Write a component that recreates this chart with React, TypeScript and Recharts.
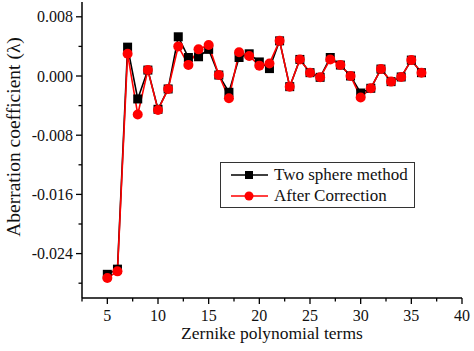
import { Line, LineChart, XAxis, YAxis } from "recharts"

const terms = [5, 6, 7, 8, 9, 10, 11, 12, 13, 14, 15, 16, 17, 18, 19, 20, 21, 22, 23, 24, 25, 26, 27, 28, 29, 30, 31, 32, 33, 34, 35, 36]

const twoSphere = [
  -0.0268, -0.0261, 0.0039, -0.0031, 0.0008, -0.0045, -0.00175, 0.0053, 0.0025, 0.0026, 0.0036, 0.00013,
  -0.0022, 0.0025, 0.003, 0.0019, 0.001, 0.00475, -0.00144, 0.00224, 0.00045, -0.00018, 0.0025, 0.00148,
  0.0, -0.0023, -0.00166, 0.00094, -0.00076, -0.00013, 0.00215, 0.00045,
]

const afterCorrection = [
  -0.0273, -0.0264, 0.003, -0.0052, 0.0008, -0.0046, -0.00175, 0.004, 0.0015, 0.0036, 0.0042, 0.00013,
  -0.003, 0.0032, 0.0027, 0.0014, 0.0017, 0.00475, -0.00144, 0.00224, 0.00045, -0.00018, 0.00224, 0.00148,
  0.0, -0.0029, -0.00166, 0.00094, -0.00076, -0.00013, 0.00215, 0.00045,
]

const xTicks = [2.5, 5, 7.5, 10, 12.5, 15, 17.5, 20, 22.5, 25, 27.5, 30, 32.5, 35, 37.5, 40]
const yTicks = [-0.028, -0.024, -0.02, -0.016, -0.012, -0.008, -0.004, 0, 0.004, 0.008]
const yMajor = [-0.024, -0.016, -0.008, 0, 0.008]

const FONT = "'Liberation Serif', 'Times New Roman', serif"

const data = terms.map((t, i) => ({ term: t, two: twoSphere[i], after: afterCorrection[i] }))

function XTick({ x, y, payload }: any) {
  const v = payload.value
  const major = v % 5 === 0
  return (
    <g>
      <line x1={x} x2={x} y1={y} y2={y + (major ? 6 : 3.5)} stroke="#000" strokeWidth={1.3} />
      {major && (
        <text x={x} y={y + 23} textAnchor="middle" fontFamily={FONT} fontSize={16} fill="#111">
          {v}
        </text>
      )}
    </g>
  )
}

function YTick({ x, y, payload }: any) {
  const v = payload.value
  const major = yMajor.some((m) => Math.abs(m - v) < 1e-9)
  return (
    <g>
      <line x1={x} x2={x - (major ? 6 : 3.5)} y1={y} y2={y} stroke="#000" strokeWidth={1.3} />
      {major && (
        <text x={x - 9} y={y + 5.5} textAnchor="end" fontFamily={FONT} fontSize={16} fill="#111">
          {v.toFixed(3)}
        </text>
      )}
    </g>
  )
}

function SquareDot({ cx, cy }: any) {
  return <rect x={cx - 4.5} y={cy - 4.5} width={9} height={9} fill="#000" />
}

function CircleDot({ cx, cy }: any) {
  return <circle cx={cx} cy={cy} r={5} fill="#ff0000" />
}

function ChartLegend() {
  const row = (color: string, square: boolean, label: string) => (
    <div style={{ display: "flex", alignItems: "center", height: 21, whiteSpace: "nowrap" }}>
      <svg width={40} height={12} style={{ marginRight: 3 }}>
        <line x1={0} x2={37} y1={6} y2={6} stroke={color} strokeWidth={1.5} />
        {square ? (
          <rect x={14} y={2} width={8} height={8} fill={color} />
        ) : (
          <circle cx={18} cy={6} r={4.5} fill={color} />
        )}
      </svg>
      <span>{label}</span>
    </div>
  )
  return (
    <div
      style={{
        position: "absolute",
        left: 220,
        top: 162,
        border: "1px solid #333",
        padding: "1px 6px 1px 10px",
        fontFamily: FONT,
        fontSize: 17,
        color: "#111",
        background: "#fff",
      }}
    >
      {row("#000", true, "Two sphere method")}
      {row("#ff0000", false, "After Correction")}
    </div>
  )
}

export default function App() {
  return (
    <div style={{ position: "absolute", left: 0, top: 0, width: 474, height: 351, background: "#fff", fontFamily: FONT }}>
      <LineChart width={474} height={351} data={data} margin={{ top: 2, right: 12, left: 0, bottom: 0 }}>
        <XAxis
          dataKey="term"
          type="number"
          domain={[2.5, 40]}
          ticks={xTicks}
          interval={0}
          height={53}
          tickSize={0}
          tickMargin={0}
          tickLine={false}
          axisLine={{ stroke: "#000", strokeWidth: 1.5 }}
          tick={<XTick />}
          allowDataOverflow
          label={({ viewBox }: any) => (
            <text
              x={viewBox.x + viewBox.width / 2}
              y={339}
              textAnchor="middle"
              fontFamily={FONT}
              fontSize={17.5}
              fill="#111"
            >
              Zernike polynomial terms
            </text>
          )}
        />
        <YAxis
          type="number"
          domain={[-0.03, 0.01]}
          ticks={yTicks}
          interval={0}
          width={82}
          tickSize={0}
          tickMargin={0}
          tickLine={false}
          axisLine={{ stroke: "#000", strokeWidth: 1.5 }}
          tick={<YTick />}
          allowDataOverflow
          label={() => {
            const cy = 137
            return (
              <text
                x={20}
                y={cy}
                transform={`rotate(-90 20 ${cy})`}
                textAnchor="middle"
                fontFamily={FONT}
                fontSize={19.5}
                fill="#111"
              >
                Aberration coefficient (λ)
              </text>
            )
          }}
        />
        <Line
          dataKey="two"
          stroke="#000"
          strokeWidth={1.6}
          dot={<SquareDot />}
          activeDot={false}
          isAnimationActive={false}
        />
        <Line
          dataKey="after"
          stroke="#ff0000"
          strokeWidth={1.6}
          dot={<CircleDot />}
          activeDot={false}
          isAnimationActive={false}
        />
      </LineChart>
      <ChartLegend />
    </div>
  )
}
